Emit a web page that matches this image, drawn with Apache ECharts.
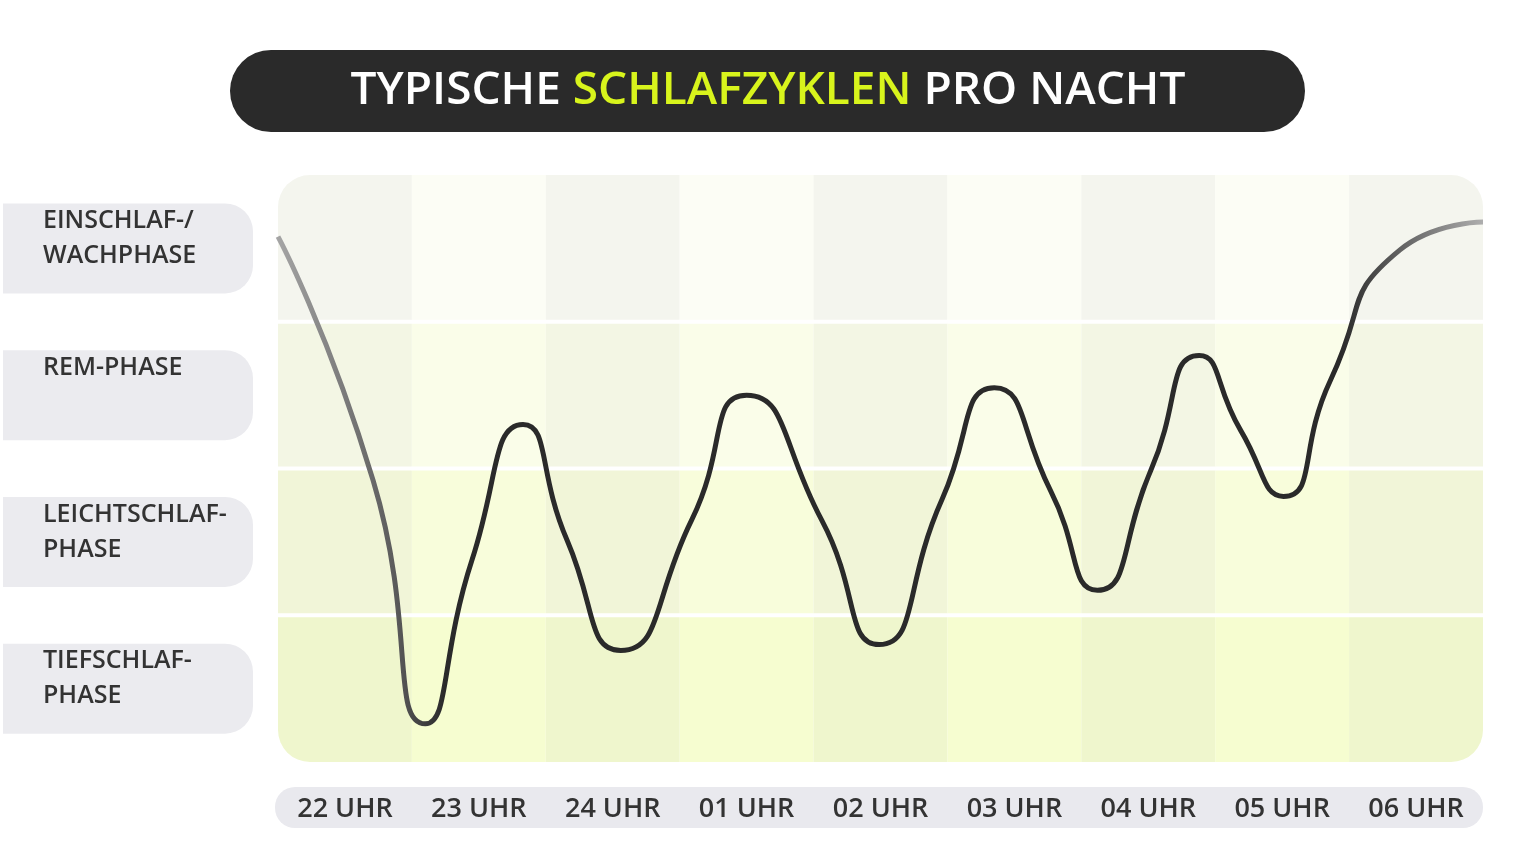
<!DOCTYPE html>
<html lang="de">
<head>
<meta charset="UTF-8">
<title>Typische Schlafzyklen pro Nacht</title>
<script src="https://cdn.jsdelivr.net/npm/echarts@6/dist/echarts.min.js"></script>
<style>
  html, body { margin: 0; padding: 0; background: #fff; }
  #main { width: 1536px; height: 864px; }
</style>
</head>
<body>
<div id="main"></div>
<script>
  // x: column index (0 = 22 Uhr), y: phase level (0 = Tiefschlaf ... 4 = wach)
  var hours = ['22 UHR', '23 UHR', '24 UHR', '01 UHR', '02 UHR', '03 UHR', '04 UHR', '05 UHR', '06 UHR'];
  var phases = [['TIEFSCHLAF-', 'PHASE'], ['LEICHTSCHLAF-', 'PHASE'], ['REM-PHASE'], ['EINSCHLAF-/', 'WACHPHASE']];
  var curveX = [-0.5, 0.21, 0.6, 0.95, 1.33, 1.66, 2.06, 2.59, 3.0, 3.56, 3.99, 4.46, 4.85, 5.27, 5.62, 6.02, 6.38, 6.69, 7.01, 7.36, 7.88, 8.5];
  var curveY = [3.58, 1.92, 0.26, 1.38, 2.3, 1.51, 0.76, 1.65, 2.5, 1.65, 0.8, 1.79, 2.55, 1.85, 1.17, 1.99, 2.77, 2.26, 1.81, 2.6, 3.49, 3.68];
  var oddColors = ['#eff6cd', '#f1f5d8', '#f3f6e4', '#f4f5ee'];
  var evenColors = ['#f6fdd0', '#f8fddb', '#fafde9', '#fcfdf5'];

  var cells = [];
  for (var c = 0; c < hours.length; c++) {
    for (var r = 0; r < phases.length; r++) cells.push([c, r]);
  }
  var curve = curveX.map(function (x, i) { return [x, curveY[i]]; });

  var myChart = echarts.init(document.getElementById('main'));
  var fontFam = '"Open Sans", "Noto Sans", sans-serif';

  var option = {
    animation: false,
    graphic: [
      { type: 'rect', shape: { x: 230, y: 50, width: 1075, height: 82, r: 41 }, style: { fill: '#2a2a2a' } },
      {
        type: 'text', x: 768, y: 91,
        style: {
          text: '{w|TYPISCHE }{g|SCHLAFZYKLEN}{w| PRO NACHT}',
          align: 'center', verticalAlign: 'middle',
          rich: {
            w: { fill: '#ffffff', fontSize: 46, fontWeight: 600, fontFamily: fontFam },
            g: { fill: '#d8f41c', fontSize: 46, fontWeight: 600, fontFamily: fontFam }
          }
        }
      },
      { type: 'rect', shape: { x: 275, y: 787, width: 1208, height: 41, r: 20 }, style: { fill: '#e9e9ee' } }
    ],
    grid: { left: 275, right: 53, top: 175, bottom: 102 },
    xAxis: [
      { type: 'value', min: -0.5, max: 8.5, show: false },
      {
        type: 'category', data: hours, position: 'bottom', gridIndex: 0,
        axisLine: { show: false }, axisTick: { show: false },
        axisLabel: { color: '#333', fontSize: 27, fontWeight: 600, fontFamily: fontFam, margin: 34 }
      }
    ],
    yAxis: [
      { type: 'value', min: 0, max: 4, show: false },
      {
        type: 'category', data: phases.map(function (p) { return p.join('\n'); }), position: 'left',
        axisLine: { show: false }, axisTick: { show: false },
        axisLabel: {
          align: 'right', margin: 25,
          backgroundColor: '#ebebef', borderRadius: [0, 28, 28, 0],
          padding: function () { return 0; }(),
          formatter: function (v) {
            var lines = v.split('\n');
            var pad = lines.length === 1 ? '{s|}\n' : '';
            return lines.map(function (l) { return '{a|' + l + '}'; }).join('\n');
          },
          rich: {
            a: {
              color: '#333', fontSize: 25, fontWeight: 600, fontFamily: fontFam,
              lineHeight: 35, width: 210, align: 'left', padding: [0, 0, 0, 40]
            }
          },
          height: 90, verticalAlign: 'middle'
        }
      }
    ],
    series: [
      {
        type: 'custom', xAxisIndex: 0, yAxisIndex: 0, silent: true, data: cells, z: 1,
        renderItem: function (params, api) {
          var c = api.value(0), r = api.value(1);
          var p0 = api.coord([c - 0.5, r + 1]);
          var p1 = api.coord([c + 0.5, r]);
          var rad = [0, 0, 0, 0];
          if (c === 0 && r === 3) rad[0] = 32;
          if (c === 8 && r === 3) rad[1] = 32;
          if (c === 8 && r === 0) rad[2] = 32;
          if (c === 0 && r === 0) rad[3] = 32;
          var gapTop = r < 3 ? 2 : 0, gapBot = r > 0 ? 2 : 0;
          return {
            type: 'rect',
            shape: { x: p0[0], y: p0[1] + gapTop, width: p1[0] - p0[0], height: p1[1] - p0[1] - gapTop - gapBot, r: rad },
            style: { fill: (c % 2 === 0 ? oddColors : evenColors)[r] }
          };
        }
      },
      {
        type: 'line', xAxisIndex: 0, yAxisIndex: 0, data: curve, smooth: 0.6,
        showSymbol: false, z: 5,
        lineStyle: {
          width: 5,
          color: new echarts.graphic.LinearGradient(0, 0, 1, 0, [
            { offset: 0, color: '#a6a6a6' },
            { offset: 0.1, color: '#5a5a5a' },
            { offset: 0.14, color: '#2a2a2a' },
            { offset: 0.88, color: '#2a2a2a' },
            { offset: 1, color: '#b0b0b0' }
          ])
        }
      }
    ]
  };
  myChart.setOption(option);
</script>
</body>
</html>
